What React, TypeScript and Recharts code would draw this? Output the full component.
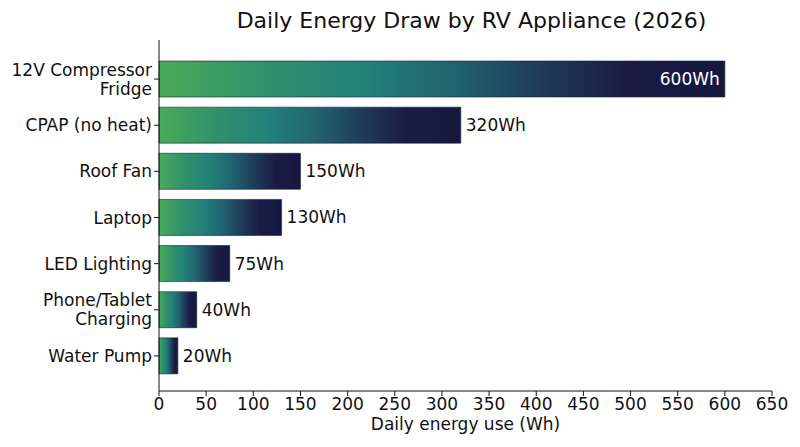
import { Bar, BarChart, LabelList, XAxis, YAxis } from "recharts";

const appliances = [
  "12V Compressor\nFridge",
  "CPAP (no heat)",
  "Roof Fan",
  "Laptop",
  "LED Lighting",
  "Phone/Tablet\nCharging",
  "Water Pump",
];
const dailyWh = [600, 320, 150, 130, 75, 40, 20];
const xTicks = [0, 50, 100, 150, 200, 250, 300, 350, 400, 450, 500, 550, 600, 650];

const data = appliances.map((name, i) => ({ name, wh: dailyWh[i] }));

const font = "DejaVu Sans, Verdana, sans-serif";

function ApplianceTick({ x, y, payload }: any) {
  const lines = String(payload.value).split("\n");
  const lh = 19;
  const start = -((lines.length - 1) * lh) / 2;
  return (
    <text x={x} y={y} textAnchor="end" fontSize={17} fontFamily={font} fill="#111">
      {lines.map((l, i) => (
        <tspan key={i} x={x} dy={i === 0 ? start + 6 : lh}>
          {l}
        </tspan>
      ))}
    </text>
  );
}

function ValueLabel({ x, y, width, height, value }: any) {
  const inside = value >= 500;
  return (
    <text
      x={inside ? x + width - 5 : x + width + 5}
      y={y + height / 2 + 6}
      textAnchor={inside ? "end" : "start"}
      fontSize={17}
      fontFamily={font}
      fill={inside ? "#fff" : "#111"}
    >
      {value}Wh
    </text>
  );
}

export default function App() {
  return (
    <div style={{ width: 800, height: 447, background: "#fff", position: "relative" }}>
      <style>{`body{margin:0}`}</style>
      <div
        style={{
          position: "absolute",
          left: 165,
          width: 613,
          top: 8,
          textAlign: "center",
          fontFamily: font,
          fontSize: 22,
          color: "#111",
        }}
      >
        Daily Energy Draw by RV Appliance (2026)
      </div>
      <div
        style={{
          position: "absolute",
          left: 159,
          width: 613,
          top: 414,
          textAlign: "center",
          fontFamily: font,
          fontSize: 17,
          color: "#111",
        }}
      >
        Daily energy use (Wh)
      </div>
      <BarChart
        width={800}
        height={447}
        data={data}
        layout="vertical"
        margin={{ top: 40, right: 28, left: 9, bottom: 0 }}
      >
        <defs>
          <linearGradient id="barGrad" x1="0" y1="0" x2="1" y2="0">
            <stop offset="0%" stopColor="#4aaa5a" />
            <stop offset="20%" stopColor="#2f8f6c" />
            <stop offset="36%" stopColor="#22817a" />
            <stop offset="52%" stopColor="#216370" />
            <stop offset="68%" stopColor="#1f3a58" />
            <stop offset="82%" stopColor="#1a1c47" />
            <stop offset="100%" stopColor="#15183d" />
          </linearGradient>
        </defs>
        <XAxis
          type="number"
          domain={[0, 650]}
          ticks={xTicks}
          interval={0}
          height={56}
          tick={{ fontSize: 17, fontFamily: font, fill: "#111" }}
          stroke="#111"
          tickSize={5}
        />
        <YAxis
          type="category"
          dataKey="name"
          width={150}
          stroke="#111"
          tickSize={5}
          tick={<ApplianceTick />}
          padding={{ top: 16, bottom: 12 }}
          interval={0}
        />
        <Bar dataKey="wh" fill="url(#barGrad)" barSize={36} stroke="#1a1f3a" strokeWidth={0.6} isAnimationActive={false}>
          <LabelList dataKey="wh" content={<ValueLabel />} />
        </Bar>
      </BarChart>
    </div>
  );
}
